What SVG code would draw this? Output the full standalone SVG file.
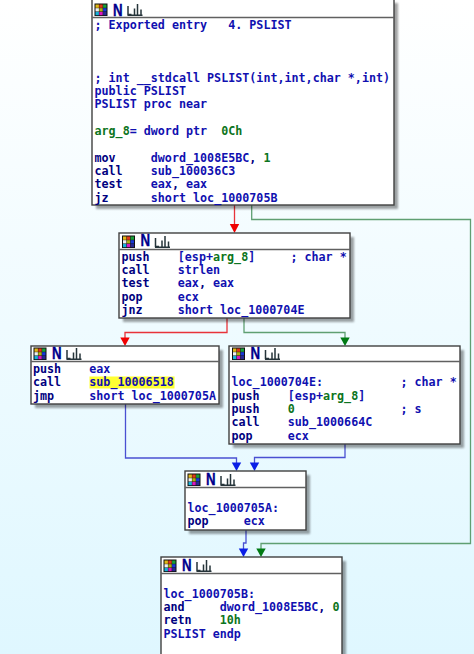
<svg xmlns="http://www.w3.org/2000/svg" width="474" height="654" viewBox="0 0 474 654">
<style>
.box{fill:#fff;stroke:#404040;stroke-width:1.4}
.shadow{fill:#000;opacity:.36;filter:url(#soft)}
.div{stroke:#606060;stroke-width:1.6}
text{font-family:"DejaVu Sans Mono","Liberation Mono",monospace;font-size:11.7px;font-weight:700;white-space:pre;fill:#000080}
.l{fill:#1010b0}
.g{fill:#0c7420}
text.n{font-family:"Liberation Sans",sans-serif;font-size:17px;font-weight:700;fill:#00008c;stroke:#00008c;stroke-width:.4}
.c{fill:none;stroke-width:1.3}
.r{stroke:#e8333a}.gr{stroke:#5f9f72}.b{stroke:#4a50d2}
.hr{fill:#f00000}.hg{fill:#007a14}.hb{fill:#0a1ee6}
</style>
<defs>
<linearGradient id="bg" x1="0" y1="0" x2="0" y2="1">
<stop offset="0" stop-color="#ffffff"/><stop offset="1" stop-color="#dff7ff"/>
</linearGradient>
<filter id="soft" x="-5%" y="-5%" width="110%" height="110%"><feGaussianBlur stdDeviation="0.8"/></filter>
<g id="icon">
<rect x="0" y="0" width="13" height="12.500" fill="#111"/>
<rect x="1" y="1" width="3.400" height="3.300" fill="#e0b818"/><rect x="4.800" y="1" width="3.400" height="3.300" fill="#e03818"/><rect x="8.600" y="1" width="3.400" height="3.300" fill="#18a038"/>
<rect x="1" y="4.700" width="3.400" height="3.300" fill="#f0f0f0"/><rect x="4.800" y="4.700" width="3.400" height="3.300" fill="#b0b010"/><rect x="8.600" y="4.700" width="3.400" height="3.300" fill="#1838d8"/>
<rect x="1" y="8.400" width="3.400" height="3.300" fill="#18b0d8"/><rect x="4.800" y="8.400" width="3.400" height="3.300" fill="#d818c0"/><rect x="8.600" y="8.400" width="3.400" height="3.300" fill="#282890"/>
<path d="M33.500 2.500V11H37M40 5V11M43 0.500V11M46.500 6V11M33 11.800H48" fill="none" stroke="#26343a" stroke-width="1.500"/>
</g>
</defs>
<rect width="474" height="654" fill="url(#bg)"/>

<g id="connectors">
<path class="c r" d="M234.500 205V226"/><path class="hr" d="M229.800 224L239.200 224 234.500 233Z"/>
<path class="c gr" d="M251.700 205V219.500H470.500V543.500H261V550"/><path class="hg" d="M256.300 548.500L265.700 548.500 261 557Z"/>
<path class="c r" d="M227 318V332.500H125V339"/><path class="hr" d="M120.300 337.500L129.700 337.500 125 346Z"/>
<path class="c gr" d="M244 318V332.500H345V339"/><path class="hg" d="M340.300 337.500L349.700 337.500 345 346Z"/>
<path class="c b" d="M125.500 404V458H236.500V464"/><path class="hb" d="M231.800 462.500L241.200 462.500 236.500 471Z"/>
<path class="c b" d="M345 444V457.500H254.500V464"/><path class="hb" d="M249.800 462.500L259.200 462.500 254.500 471Z"/>
<path class="c b" d="M246 530V543H243.500V550"/><path class="hb" d="M238.800 548.500L248.200 548.500 243.500 557Z"/>
</g>

<g id="node1">
<rect class="shadow" x="96" y="3" width="302" height="206"/>
<rect class="box" x="92" y="-1" width="302" height="206"/>
<line class="div" x1="92" x2="394" y1="17.500" y2="17.500"/>
<use href="#icon" x="94.500" y="3.500"/><text class="n" transform="translate(113 15.500) scale(.78 1)">N</text>
<text class="l" x="94.500" y="28.700">; Exported entry   4. PSLIST</text>
<text class="l" x="94.500" y="81.700">; int __stdcall PSLIST(int,int,char *,int)</text>
<text class="l" x="94.500" y="95">public PSLIST</text>
<text class="l" x="94.500" y="108.300">PSLIST proc near</text>
<text x="94.500" y="135"><tspan class="g">arg_8</tspan><tspan class="l">= dword ptr  </tspan><tspan class="g">0Ch</tspan></text>
<text x="94.500" y="161.600">mov     <tspan class="l">dword_1008E5BC</tspan>, <tspan class="g">1</tspan></text>
<text x="94.500" y="174.900">call    <tspan class="l">sub_100036C3</tspan></text>
<text x="94.500" y="188.200">test    <tspan class="l">eax</tspan>, <tspan class="l">eax</tspan></text>
<text x="94.500" y="201.500">jz      <tspan class="l">short loc_1000705B</tspan></text>
</g>

<g id="node2">
<rect class="shadow" x="123" y="237" width="231" height="85"/>
<rect class="box" x="119" y="233" width="231" height="85"/>
<line class="div" x1="119" x2="350" y1="249.500" y2="249.500"/>
<use href="#icon" x="122" y="235.500"/><text class="n" transform="translate(140.500 246) scale(.78 1)">N</text>
<text x="121.500" y="260.700">push    <tspan class="l">[esp+</tspan><tspan class="g">arg_8</tspan><tspan class="l">]     ; char *</tspan></text>
<text x="121.500" y="274">call    <tspan class="l">strlen</tspan></text>
<text x="121.500" y="287.300">test    <tspan class="l">eax</tspan>, <tspan class="l">eax</tspan></text>
<text x="121.500" y="300.600">pop     <tspan class="l">ecx</tspan></text>
<text x="121.500" y="313.900">jnz     <tspan class="l">short loc_1000704E</tspan></text>
</g>

<g id="node3">
<rect class="shadow" x="35" y="350" width="188" height="58"/>
<rect class="box" x="31" y="346" width="188" height="58"/>
<line class="div" x1="31" x2="219" y1="361.500" y2="361.500"/>
<use href="#icon" x="33.500" y="347.500"/><text class="n" transform="translate(52 358.500) scale(.78 1)">N</text>
<rect x="89.500" y="376.500" width="85" height="12" fill="#ffff33"/>
<text x="33" y="373">push    <tspan class="l">eax</tspan></text>
<text x="33" y="386.300">call    <tspan class="l">sub_10006518</tspan></text>
<text x="33" y="399.600">jmp     <tspan class="l">short loc_1000705A</tspan></text>
</g>

<g id="node4">
<rect class="shadow" x="233" y="350" width="231" height="98"/>
<rect class="box" x="229" y="346" width="231" height="98"/>
<line class="div" x1="229" x2="460" y1="361.500" y2="361.500"/>
<use href="#icon" x="232" y="347.500"/><text class="n" transform="translate(250.500 358.500) scale(.78 1)">N</text>
<text class="l" x="231.500" y="386.300">loc_1000704E:           ; char *</text>
<text x="231.500" y="399.600">push    <tspan class="l">[esp+</tspan><tspan class="g">arg_8</tspan><tspan class="l">]</tspan></text>
<text x="231.500" y="412.900">push    <tspan class="g">0</tspan><tspan class="l">               ; s</tspan></text>
<text x="231.500" y="426.200">call    <tspan class="l">sub_1000664C</tspan></text>
<text x="231.500" y="439.500">pop     <tspan class="l">ecx</tspan></text>
</g>

<g id="node5">
<rect class="shadow" x="189" y="475" width="121" height="59"/>
<rect class="box" x="185" y="471" width="121" height="59"/>
<line class="div" x1="185" x2="306" y1="487.500" y2="487.500"/>
<use href="#icon" x="187.500" y="473.500"/><text class="n" transform="translate(206 484.500) scale(.78 1)">N</text>
<text class="l" x="187.500" y="511.700">loc_1000705A:</text>
<text x="187.500" y="525">pop     <tspan class="l">ecx</tspan></text>
</g>

<g id="node6">
<rect class="shadow" x="165" y="561" width="181" height="100"/>
<rect class="box" x="161" y="557" width="181" height="100"/>
<line class="div" x1="161" x2="342" y1="573.500" y2="573.500"/>
<use href="#icon" x="163.500" y="559.500"/><text class="n" transform="translate(182 570.500) scale(.78 1)">N</text>
<text class="l" x="163.500" y="597.700">loc_1000705B:</text>
<text x="163.500" y="611">and     <tspan class="l">dword_1008E5BC</tspan>, <tspan class="g">0</tspan></text>
<text x="163.500" y="624.300">retn    <tspan class="g">10h</tspan></text>
<text class="l" x="163.500" y="637.600">PSLIST endp</text>
</g>
</svg>
